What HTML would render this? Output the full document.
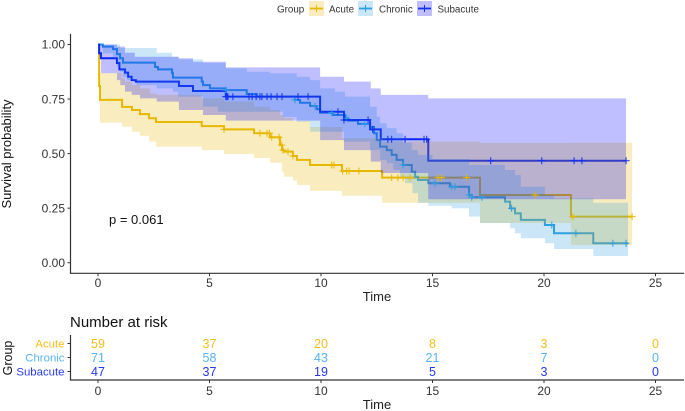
<!DOCTYPE html>
<html><head><meta charset="utf-8"><title>Survival curves</title>
<style>
html,body{margin:0;padding:0;background:#fff;width:685px;height:411px;overflow:hidden}
svg{display:block;filter:blur(0.35px)}
text{font-family:"Liberation Sans",sans-serif}
</style></head>
<body>
<svg id="chart" width="685" height="411" viewBox="0 0 685 411" xmlns="http://www.w3.org/2000/svg">
<g id="lines"></g>
<g id="bands"></g>
<g id="censors"></g>
<g id="axes"></g>
<text x="0" y="0" transform="translate(11,154) rotate(-90)" text-anchor="middle" font-size="13" fill="#111">Survival probability</text>
<text x="377" y="301" text-anchor="middle" font-size="13" fill="#222">Time</text>
<text x="109" y="224" font-size="13" fill="#111">p = 0.061</text>
<text x="277" y="12.5" font-size="9.8" fill="#333">Group</text>
<g>
<rect x="309" y="1" width="15" height="15" fill="#E7B800" fill-opacity="0.25"/>
<line x1="310" x2="323" y1="8.5" y2="8.5" stroke="#E7B800" stroke-width="1.8"/><line x1="316.5" x2="316.5" y1="5" y2="12" stroke="#E7B800" stroke-width="1"/>
<text x="329" y="12.5" font-size="9.8" fill="#333">Acute</text></g>
<g>
<rect x="358" y="1" width="15" height="15" fill="#2E9FDF" fill-opacity="0.25"/>
<line x1="359" x2="372" y1="8.5" y2="8.5" stroke="#2E9FDF" stroke-width="1.8"/><line x1="365.5" x2="365.5" y1="5" y2="12" stroke="#2E9FDF" stroke-width="1"/>
<text x="379" y="12.5" font-size="9.8" fill="#333">Chronic</text></g>
<g>
<rect x="417" y="1" width="15" height="15" fill="#0000FF" fill-opacity="0.25"/>
<line x1="418" x2="431" y1="8.5" y2="8.5" stroke="#1230F0" stroke-width="1.8"/><line x1="424.5" x2="424.5" y1="5" y2="12" stroke="#1230F0" stroke-width="1"/>
<text x="437.5" y="12.5" font-size="9.8" fill="#333">Subacute</text></g>
<text x="70" y="327" font-size="15" fill="#111">Number at risk</text>
<text x="0" y="0" transform="translate(12,358) rotate(-90)" text-anchor="middle" font-size="12.5" fill="#111">Group</text>
<text x="377" y="409" text-anchor="middle" font-size="13" fill="#222">Time</text>
<g id="risk"></g>
</svg>
<script>
const xTicks = [0, 5, 10, 15, 20, 25];
const yTicks = [0, 0.25, 0.5, 0.75, 1];
const yTickLabels = ['0.00', '0.25', '0.50', '0.75', '1.00'];
const groups = ['Acute', 'Chronic', 'Subacute'];

const acuteTime = [0,.05,.09,1.08,1.52,1.88,2.29,2.6,4.65,5.65,7,7.71,8.16,8.25,8.34,8.74,8.92,9.51,10.94,12.74,17.13,21.21,23.95];
const acuteSurv = [1,.81,.746,.714,.7,.681,.662,.645,.626,.611,.593,.575,.539,.516,.509,.489,.471,.448,.42,.39,.31,.211,.211];
const acuteUpperTime = [0,.05,.09,1.06,1.21,1.51,1.88,2.33,2.63,4.65,5.65,7,7.71,8.16,8.34,8.74,9.51,10.94,12.74,17.13,21.21,23.95];
const acuteUpper = [1,.897,.868,.845,.83,.814,.799,.776,.769,.753,.738,.715,.7,.677,.663,.649,.622,.571,.555,.549,.55,.55];
const acuteLowerTime = [0,.05,.09,1.08,1.52,1.88,2.29,2.6,4.65,5.65,7,7.71,8.25,8.34,8.74,8.92,9.51,10.94,12.74,17.13,21.21,23.95];
const acuteLower = [1,.732,.642,.623,.6,.581,.555,.532,.516,.498,.48,.458,.417,.394,.376,.356,.329,.307,.274,.182,.081,.081];
const acuteCensor = [5.65,7.26,7.58,7.69,7.79,8.12,8.24,8.3,8.52,8.74,10.48,10.58,10.97,11.15,11.26,11.7,13.17,13.45,13.68,13.99,15.25,15.41,16.53,19.6,21.29,23.95];

const chronicTime = [0,.22,.67,.85,.99,1.12,2.56,2.69,3.32,3.36,4.65,4.71,5.02,5.73,6.67,7.12,8.83,9.06,9.51,9.81,9.96,10.54,11.08,11.21,11.66,12.2,12.38,12.5,12.65,12.95,13.17,13.39,13.68,14.07,14.22,14.35,14.81,15.78,16.64,16.76,18.25,18.48,18.7,18.96,20.04,20.45,22.21,23.77];
const chronicSurv = [1,.99,.979,.956,.937,.917,.897,.886,.869,.848,.83,.814,.799,.791,.773,.761,.746,.733,.718,.703,.687,.677,.662,.651,.636,.622,.593,.562,.532,.516,.494,.471,.448,.417,.394,.379,.364,.348,.31,.3,.28,.249,.226,.196,.173,.135,.089,.089];
const chronicUpperTime = [0,.99,2.63,3.32,3.59,4.71,5.73,6.67,7.71,8.91,9.51,9.96,10.63,11.08,12.2,12.5,12.65,12.95,13.39,13.68,14.07,14.35,15,16.64,18.25,18.7,18.96,20.04,20.45,22.21,23.77];
const chronicUpper = [1,.984,.962,.944,.932,.915,.891,.875,.868,.852,.837,.799,.784,.761,.715,.669,.639,.617,.593,.549,.516,.494,.475,.448,.425,.402,.348,.31,.295,.275,.275];
const chronicLowerTime = [0,.22,.67,.85,.99,1.12,1.29,1.73,2.63,3.36,3.59,4.71,5.38,8.3,8.91,9.51,11.03,12.2,12.65,12.95,13.24,13.54,13.77,14.1,14.35,14.81,15.86,16.64,17.13,18.48,18.7,18.96,20.04,20.45,22.21,23.77];
const chronicLower = [1,.96,.937,.898,.875,.852,.837,.814,.799,.784,.761,.715,.692,.668,.646,.6,.555,.516,.471,.456,.425,.394,.364,.319,.275,.261,.249,.211,.182,.158,.135,.112,.089,.063,.031,.031];
const chronicCensor = [5.73,8.83,9.73,10.48,11.15,11.97,13.68,15.11,15.86,16.01,16.64,16.76,17.21,18.55,20.35,21.43,23.09,23.68];

const subacuteTime = [0,.05,.13,.85,.96,1.21,1.35,1.51,1.7,3.63,4.26,5.73,9.96,11.03,12.2,12.68,14.81,23.68];
const subacuteSurv = [1,.96,.937,.915,.886,.871,.852,.837,.83,.81,.787,.761,.692,.654,.611,.566,.467,.467];
const subacuteUpperTime = [0,.85,1.21,1.65,3.63,4.26,5.73,9.96,11.03,12.23,12.68,14.81,23.68];
const subacuteUpper = [1,.99,.962,.944,.937,.921,.895,.852,.83,.799,.769,.753,.753];
const subacuteLowerTime = [0,.05,.13,.85,1,1.21,1.51,1.88,2.63,3.63,4.71,5.73,9.96,11.03,12.23,12.68,14.81,23.68];
const subacuteLower = [1,.952,.868,.837,.814,.784,.769,.753,.738,.7,.677,.651,.562,.516,.463,.411,.291,.291];
const subacuteCensor = [5.73,5.78,5.83,6.05,6.77,6.91,7.09,7.26,7.35,7.58,7.76,8.03,8.25,8.97,9.42,10.76,11.03,12.11,12.32,13,13.17,13.77,14.62,14.74,17.61,19.9,21.35,21.7,23.68];

const riskAcute = [59, 37, 20, 8, 3, 0];
const riskChronic = [71, 58, 43, 21, 7, 0];
const riskSubacute = [47, 37, 19, 5, 3, 0];

const NS = 'http://www.w3.org/2000/svg';
const xScale = t => 98 + t * 22.3;
const yScale = s => 262.7 - s * 218.2;

function mk(parent, tag, attrs, text) {
  const el = document.createElementNS(NS, tag);
  for (const k in attrs) el.setAttribute(k, attrs[k]);
  if (text !== undefined) el.textContent = text;
  parent.appendChild(el);
  return el;
}
function stepForward(times, vals) {
  const pts = [];
  times.forEach((t, i) => {
    if (i > 0) pts.push([xScale(t), yScale(vals[i - 1])]);
    pts.push([xScale(t), yScale(vals[i])]);
  });
  return pts;
}
function toPath(pts) {
  return pts.map((p, i) => (i ? 'L' : 'M') + p[0].toFixed(2) + ' ' + p[1].toFixed(2)).join(' ');
}
function survAt(times, vals, t) {
  let v = vals[0];
  times.forEach((tt, i) => { if (tt <= t) v = vals[i]; });
  return v;
}

const series = [
  { key: 'acute', color: '#E7B800', fill: '#E7B800', t: acuteTime, s: acuteSurv, ut: acuteUpperTime, u: acuteUpper, lt: acuteLowerTime, l: acuteLower, c: acuteCensor },
  { key: 'chronic', color: '#2E9FDF', fill: '#2E9FDF', t: chronicTime, s: chronicSurv, ut: chronicUpperTime, u: chronicUpper, lt: chronicLowerTime, l: chronicLower, c: chronicCensor },
  { key: 'subacute', color: '#1230F0', fill: '#0000FF', t: subacuteTime, s: subacuteSurv, ut: subacuteUpperTime, u: subacuteUpper, lt: subacuteLowerTime, l: subacuteLower, c: subacuteCensor }
];
const gLines = document.getElementById('lines');
const gBands = document.getElementById('bands');
const gCensors = document.getElementById('censors');
series.forEach(sr => {
  const line = mk(gLines, 'path', { d: toPath(stepForward(sr.t, sr.s)), fill: 'none', stroke: sr.color, 'stroke-width': 2 });
  
  
  const poly = stepForward(sr.ut, sr.u).concat(stepForward(sr.lt, sr.l).reverse());
  const band = mk(gBands, 'path', { d: toPath(poly) + ' Z', fill: sr.fill, 'fill-opacity': 0.25, stroke: 'none' });
  
  
  sr.c.forEach(t => {
    const cx = xScale(t), cy = yScale(survAt(sr.t, sr.s, t));
    const m = mk(gCensors, 'path', { d: `M${cx - 3.5} ${cy} H${cx + 3.5} M${cx} ${cy - 3.5} V${cy + 3.5}`, stroke: sr.color, 'stroke-width': 1, fill: 'none' });
    
    
  });
});

const gAxes = document.getElementById('axes');
const AX = '#333';
const topY = mk(gAxes, 'line', { x1: 70.5, x2: 70.5, y1: 34, y2: 273.8, stroke: AX, 'stroke-width': 1.2 });


const topX = mk(gAxes, 'line', { x1: 69.9, x2: 684, y1: 273.3, y2: 273.3, stroke: AX, 'stroke-width': 1.2 });


yTicks.forEach((v, i) => {
  const y = yScale(v);
  mk(gAxes, 'line', { x1: 67.5, x2: 70.5, y1: y, y2: y, stroke: AX, 'stroke-width': 1 });
  const lb = mk(gAxes, 'text', { x: 65, y: y + 4.2, 'text-anchor': 'end', 'font-size': 12, fill: '#333' }, yTickLabels[i]);
  
  
});
xTicks.forEach(v => {
  const x = xScale(v);
  mk(gAxes, 'line', { x1: x, x2: x, y1: 273.3, y2: 276.3, stroke: AX, 'stroke-width': 1 });
  const lb = mk(gAxes, 'text', { x: x, y: 287, 'text-anchor': 'middle', 'font-size': 12, fill: '#333' }, String(v));
  
  
});

const gRisk = document.getElementById('risk');
const rowY = [343.5, 357.5, 371.5];
const rowColor = ['#F5BE1E', '#58B3EE', '#2438F5'];
const riskRows = [riskAcute, riskChronic, riskSubacute];
const rY = mk(gRisk, 'line', { x1: 70.5, x2: 70.5, y1: 335, y2: 380.5, stroke: AX, 'stroke-width': 1.2 });


const rX = mk(gRisk, 'line', { x1: 69.9, x2: 684, y1: 380, y2: 380, stroke: AX, 'stroke-width': 1.2 });


groups.forEach((g, r) => {
  mk(gRisk, 'line', { x1: 67.5, x2: 70.5, y1: rowY[r], y2: rowY[r], stroke: AX, 'stroke-width': 1 });
  const lb = mk(gRisk, 'text', { x: 64.5, y: rowY[r] + 4, 'text-anchor': 'end', 'font-size': 11.4, fill: rowColor[r] }, g);
  
  
  xTicks.forEach((v, i) => {
    const c = mk(gRisk, 'text', { x: xScale(v), y: rowY[r] + 4.5, 'text-anchor': 'middle', 'font-size': 12.5, fill: rowColor[r] }, String(riskRows[r][i]));
    
    
  });
});
xTicks.forEach(v => {
  const x = xScale(v);
  mk(gRisk, 'line', { x1: x, x2: x, y1: 380, y2: 383, stroke: AX, 'stroke-width': 1 });
  const lb = mk(gRisk, 'text', { x: x, y: 395, 'text-anchor': 'middle', 'font-size': 12, fill: '#333' }, String(v));
  
  
});
</script>
</body></html>
